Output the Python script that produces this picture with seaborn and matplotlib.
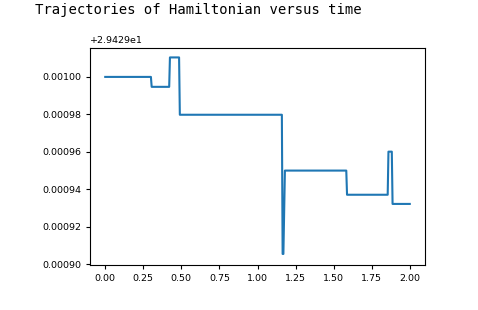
import matplotlib
matplotlib.use("Agg")
import matplotlib.pyplot as plt
import seaborn as sns
import pandas as pd
import numpy as np

# Vertices of the Hamiltonian trajectory (time, value)
time = [0.000, 0.300, 0.305, 0.420, 0.425, 0.485, 0.490, 1.160, 1.165,
        1.170, 1.180, 1.583, 1.588, 1.855, 1.860, 1.882, 1.887, 2.000]
hamiltonian = [29.4300000, 29.4300000, 29.4299947, 29.4299947, 29.4300104, 29.4300104,
               29.4299798, 29.4299798, 29.4299055, 29.4299055, 29.4299500,
               29.4299500, 29.4299371, 29.4299371, 29.4299601, 29.4299601,
               29.4299322, 29.4299322]

title = "Trajectories of Hamiltonian versus time"
y_offset = 29.429

df = pd.DataFrame({"time": time, "H": hamiltonian})

plt.rcParams['font.family'] = ['DejaVu Sans']
fig = plt.figure(figsize=(4.78, 3.10), dpi=100)
ax = fig.add_axes([90/478, 1 - 265/310, (425 - 90)/478, (265 - 47.5)/310])
sns.lineplot(data=df, x="time", y="H", ax=ax, color="#1f77b4", linewidth=1.5,
             sort=False, estimator=None)
ax.set_xlabel("")
ax.set_ylabel("")
ax.set_xticks([0, 0.25, 0.5, 0.75, 1.0, 1.25, 1.5, 1.75, 2.0])
ax.set_ylim(29.4298996, 29.4300157)
ax.ticklabel_format(axis="y", useOffset=y_offset)
ax.tick_params(labelsize=6.8, length=3, width=0.8)
ax.yaxis.get_offset_text().set_fontsize(6.8)
for s in ax.spines.values():
    s.set_linewidth(0.8)
fig.text(35/478, 1 - 3/310, title, family="DejaVu Sans Mono", fontsize=10.0,
         ha="left", va="top")
fig.savefig("out.png", dpi=100)
